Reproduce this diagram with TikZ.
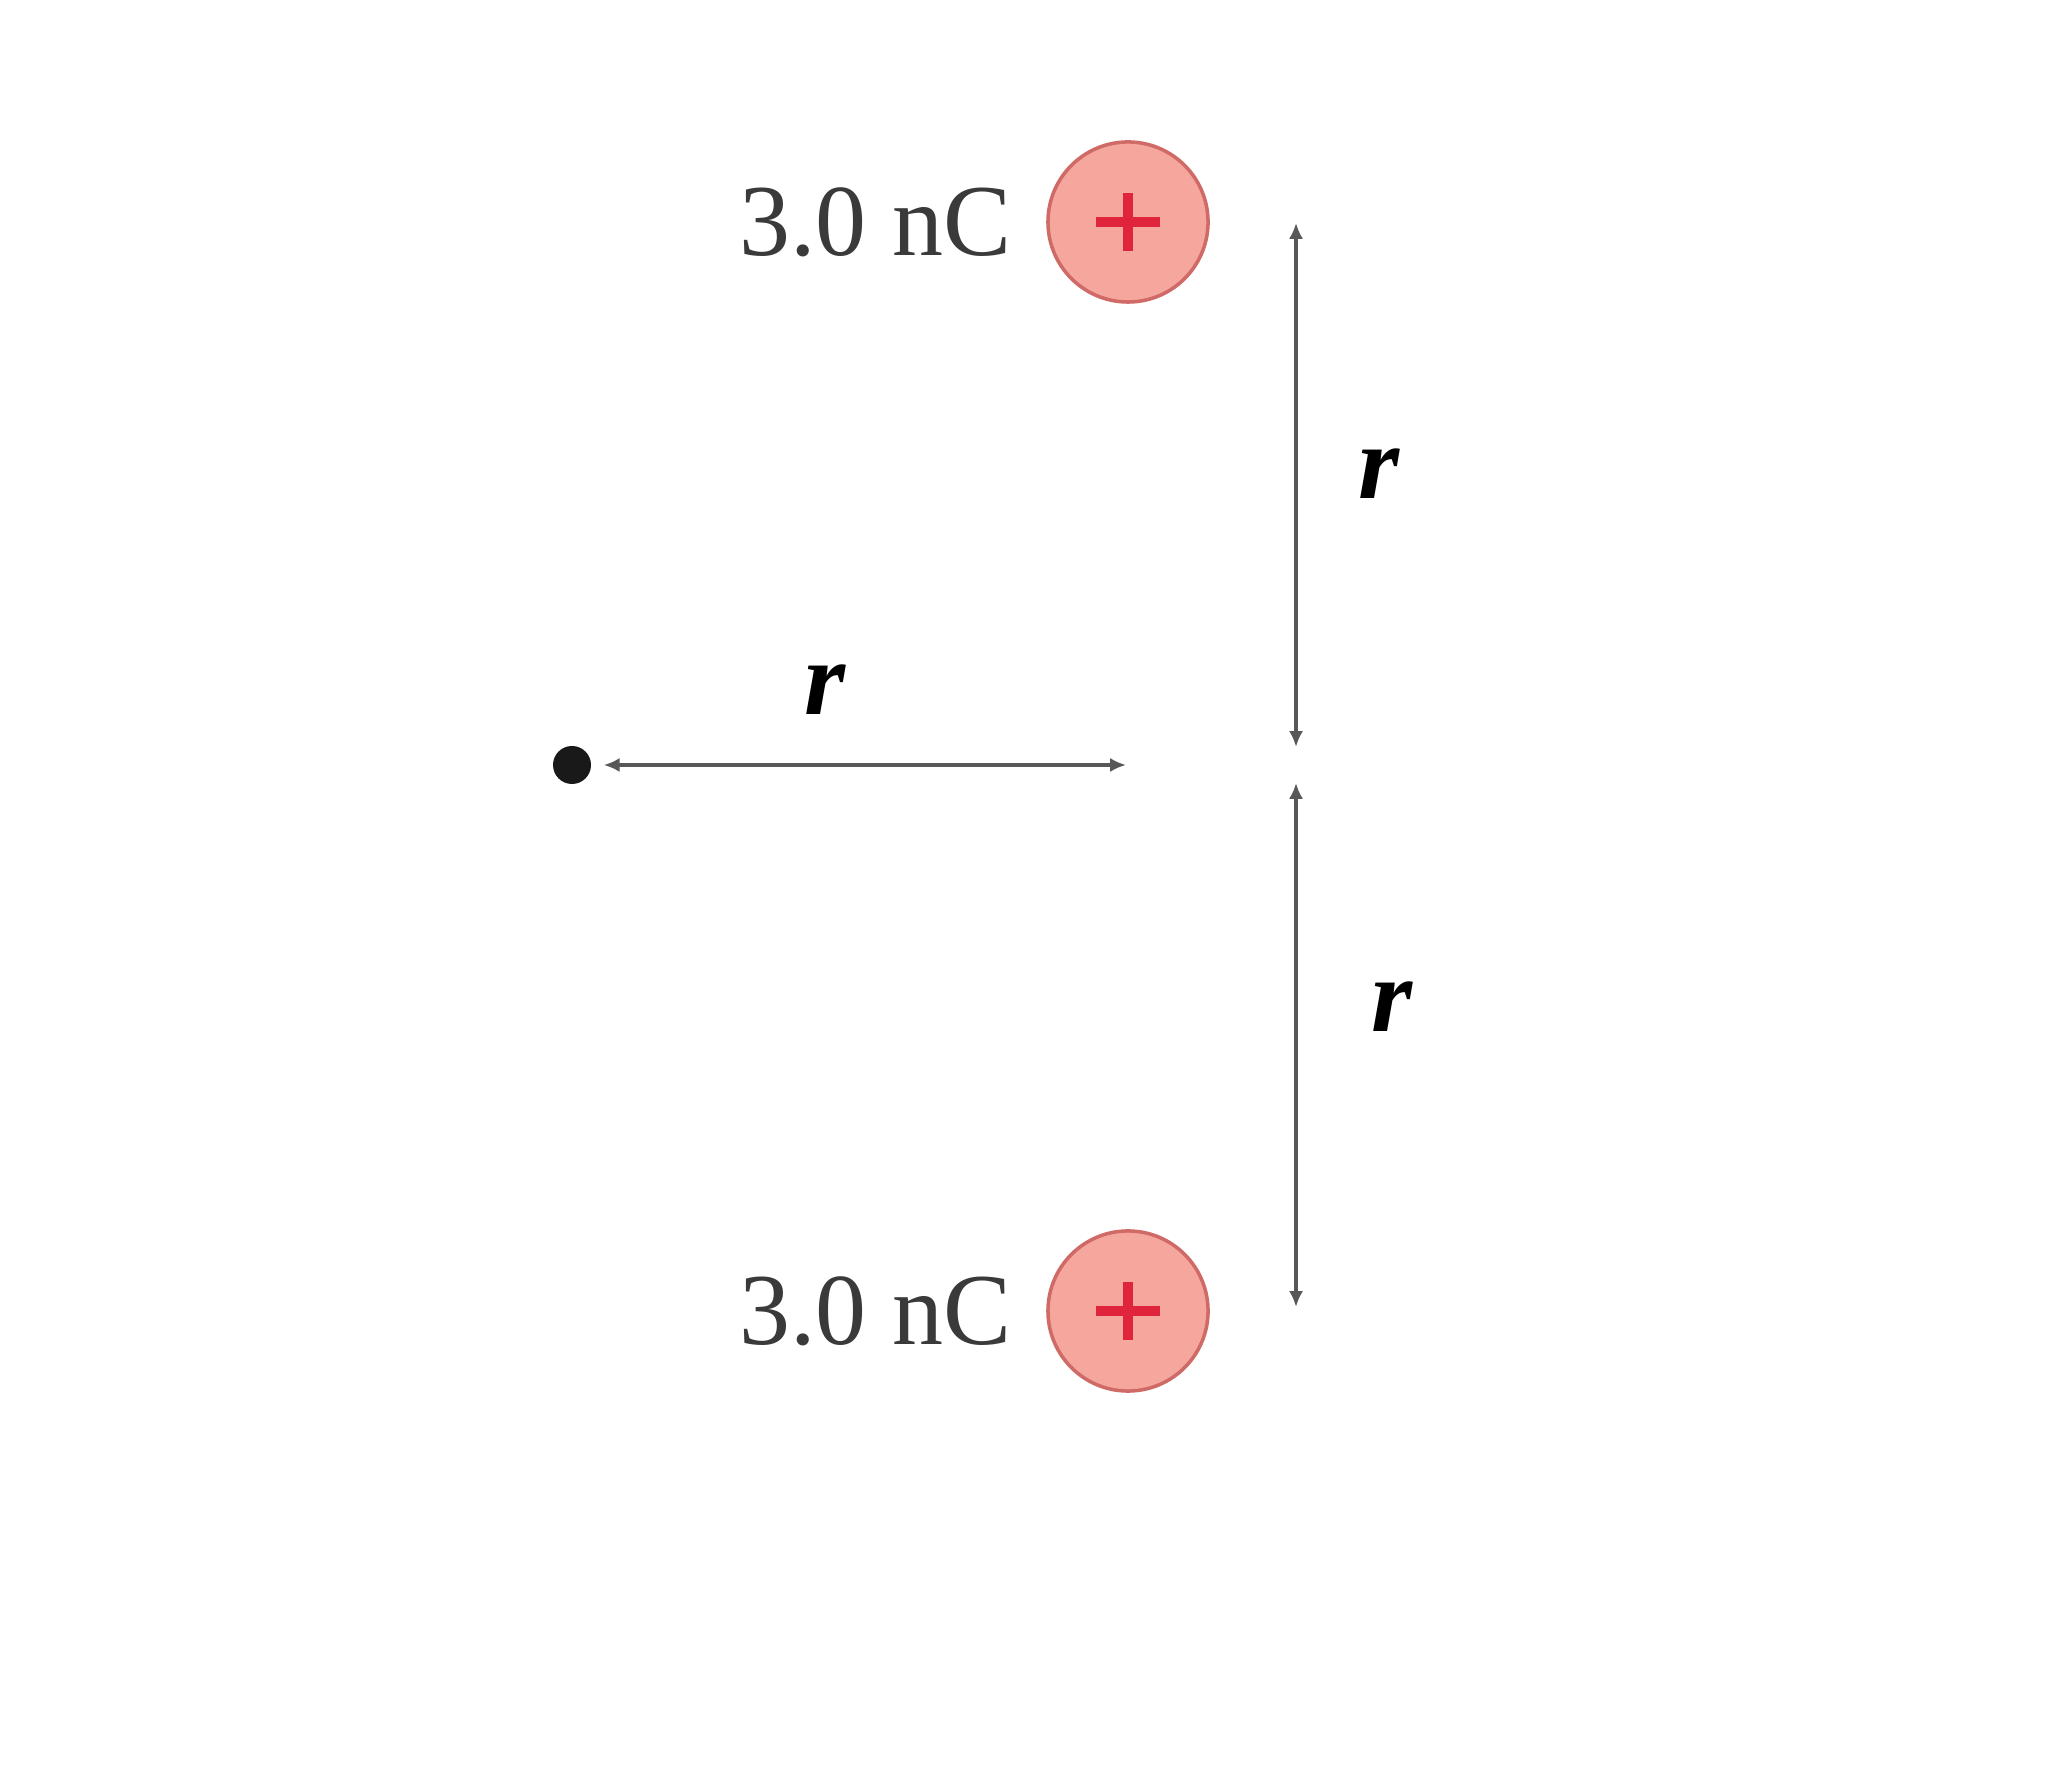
\documentclass[tikz,border=0pt]{standalone}
\usepackage{fontspec}
\setmainfont{Liberation Serif}
\usepackage{xcolor}
\usetikzlibrary{positioning,arrows.meta,calc}

\definecolor{chargefill}{HTML}{F5A79E}
\definecolor{chargeedge}{HTML}{CF6A66}
\definecolor{plusred}{HTML}{E0243C}
\definecolor{inkgray}{HTML}{3A3A3A}

\tikzset{
  charge/.style={circle, draw=chargeedge, line width=1pt, fill=chargefill, minimum size=1.6cm, inner sep=0pt},
  qlabel/.style={inner sep=0pt, text=inkgray, font=\fontsize{29}{29}\selectfont},
  rlabel/.style={inner sep=0pt, text=black, font=\fontsize{30}{30}\selectfont\bfseries\itshape},
  dim/.style={draw=inkgray!85, line width=1.4pt, {Latex[length=4.5pt,width=4pt]}-{Latex[length=4.5pt,width=4pt]}},
}

\newcommand{\plussign}[1]{%
  \draw[plusred, line width=2.8pt] ($(#1)+(-32,0)$) -- ($(#1)+(32,0)$);
  \draw[plusred, line width=2.8pt] ($(#1)+(0,-29)$) -- ($(#1)+(0,29)$);
}

\begin{document}
\begin{tikzpicture}[x=0.01cm, y=0.01cm]
    \useasboundingbox[fill=white] (0,0) rectangle (2046,1788);

    % the two charges
    \node[charge] (qa) at (1128,1566) {};
    \node[charge] (qb) at (1128,477) {};
    \plussign{qa}
    \plussign{qb}
    \node[qlabel, left=0.34cm of qa] (la) {3.0 nC};
    \node[qlabel, left=0.34cm of qb] (lb) {3.0 nC};

    % the point
    \node[circle, fill=black!90, minimum size=0.38cm, inner sep=0pt] (p) at (572,1023) {};
    \coordinate (mid) at (1126,1023);

    % distances
    \coordinate (ta) at (1296,1565);
    \coordinate (tb) at (1296,1041);
    \coordinate (ba) at (1296,1005);
    \coordinate (bb) at (1296,481);
    \draw[dim, shorten <=0.12cm] (p) -- (mid);
    \draw[dim] (ta) -- (tb);
    \draw[dim] (ba) -- (bb);

    \node[rlabel] (rp) at (825,1098) {r};
    \node[rlabel] (ra) at (1379,1314) {r};
    \node[rlabel] (rb) at (1392,781) {r};
\end{tikzpicture}
\end{document}
